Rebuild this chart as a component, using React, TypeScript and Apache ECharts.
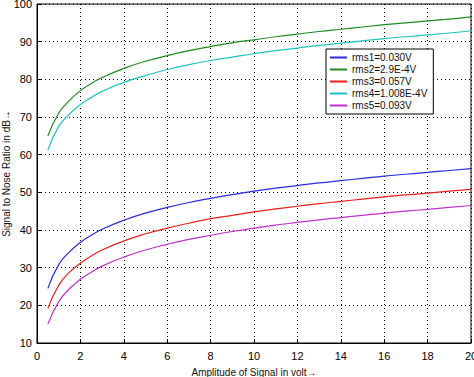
import React, { useEffect, useRef } from "react";
import * as echarts from "echarts";

const amplitude = [0.5, 1, 1.5, 2, 2.5, 3, 4, 5, 6, 7, 8, 9, 10, 11, 12, 13, 14, 15, 16, 17, 18, 19, 20];
const rms1 = [24.5, 30.8, 34.2, 36.7, 38.6, 40.2, 42.6, 44.5, 46.0, 47.3, 48.4, 49.4, 50.3, 51.1, 51.8, 52.5, 53.1, 53.7, 54.3, 54.8, 55.3, 55.8, 56.3];
const rms2 = [65, 71, 74.4, 77, 78.9, 80.5, 82.9, 84.8, 86.3, 87.6, 88.7, 89.7, 90.5, 91.3, 92.0, 92.7, 93.3, 93.9, 94.5, 95.0, 95.5, 96.0, 96.6];
const rms3 = [19.2, 25.3, 28.8, 31.2, 33.1, 34.7, 37.1, 39.0, 40.5, 41.8, 43.0, 43.9, 44.8, 45.6, 46.3, 47.0, 47.6, 48.2, 48.8, 49.3, 49.8, 50.3, 50.8];
const rms4 = [61.2, 67.5, 70.8, 73.3, 75.2, 76.8, 79.2, 81.0, 82.6, 83.9, 85.0, 85.9, 86.8, 87.6, 88.3, 89.0, 89.6, 90.2, 90.8, 91.3, 91.8, 92.3, 92.9];
const rms5 = [15, 21, 24.4, 26.9, 28.8, 30.4, 32.8, 34.7, 36.2, 37.5, 38.6, 39.6, 40.5, 41.3, 42.0, 42.7, 43.3, 43.9, 44.5, 45.0, 45.5, 46.0, 46.5];

const seriesNames = ["rms1=0.030V", "rms2=2.9E-4V", "rms3=0.057V", "rms4=1.008E-4V", "rms5=0.093V"];
const seriesValues = [rms1, rms2, rms3, rms4, rms5];
const seriesColors = ["#2a2ae0", "#1f8a1f", "#e82020", "#20c4c4", "#c030c8"];

export default function App() {
  const ref = useRef<HTMLDivElement>(null);
  useEffect(() => {
    if (!ref.current) return;
    const chart = echarts.init(ref.current, null, { renderer: "svg" });
    const font = "Liberation Sans, Arial, sans-serif";
    chart.setOption({
      animation: false,
      backgroundColor: "#ffffff",
      textStyle: { fontFamily: font },
      grid: {
        left: 37,
        right: 3,
        top: 4,
        bottom: 34,
        containLabel: false,
        outerBoundsMode: "none",
        show: true,
        borderColor: "#000",
        borderWidth: 1,
        backgroundColor: "transparent",
      },
      legend: {
        orient: "vertical",
        left: 326,
        top: 49,
        data: seriesNames,
        icon: "rect",
        itemWidth: 17,
        itemHeight: 2,
        itemGap: 1,
        padding: [3, 6, 3, 4],
        backgroundColor: "#fff",
        borderColor: "#000",
        borderWidth: 1,
        borderRadius: 0,
        textStyle: { fontSize: 10, color: "#111", fontFamily: font, lineHeight: 11 },
      },
      xAxis: {
        type: "value",
        min: 0,
        max: 20,
        interval: 2,
        name: "Amplitude of Signal in volt\u2192",
        nameLocation: "middle",
        nameGap: 24,
        nameMoveOverlap: false,
        nameTextStyle: { fontSize: 10, color: "#111" },
        axisLine: { show: true, lineStyle: { color: "#000", width: 1 } },
        axisTick: { show: true, inside: true, length: 4, lineStyle: { color: "#000" } },
        axisLabel: { fontSize: 11, color: "#000", margin: 7 },
        splitLine: { show: true, lineStyle: { color: "#000", type: [1, 3], width: 1 } },
      },
      yAxis: {
        type: "value",
        min: 10,
        max: 100,
        interval: 10,
        name: "Signal to Nose Ratio in dB\u2192",
        nameLocation: "middle",
        nameGap: 26,
        nameMoveOverlap: false,
        nameTextStyle: { fontSize: 10, color: "#111" },
        axisLine: { show: true, lineStyle: { color: "#000", width: 1 } },
        axisTick: { show: true, inside: true, length: 4, lineStyle: { color: "#000" } },
        axisLabel: { fontSize: 11, color: "#000", margin: 5 },
        splitLine: { show: true, lineStyle: { color: "#000", type: [1, 3], width: 1 } },
      },
      series: seriesNames.map((name, i) => ({
        name,
        type: "line",
        showSymbol: false,
        smooth: true,
        color: seriesColors[i],
        lineStyle: { width: 1.2, color: seriesColors[i] },
        data: amplitude.map((x, j) => [x, seriesValues[i][j]]),
      })),
    });
    return () => chart.dispose();
  }, []);
  return <div ref={ref} style={{ width: 474, height: 377, position: "absolute", left: 0, top: 0 }} />;
}
